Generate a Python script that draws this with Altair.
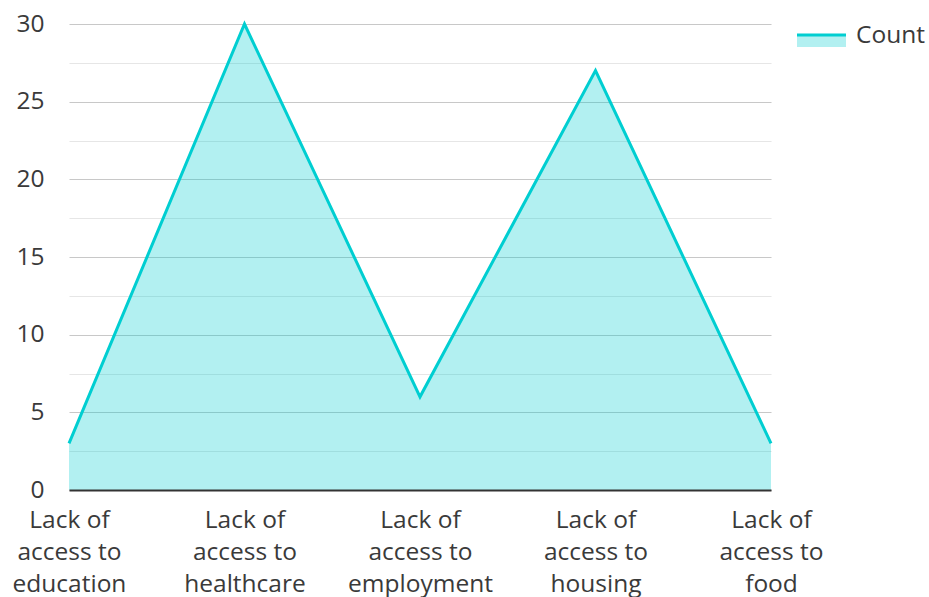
import altair as alt
import pandas as pd

categories = [
    "Lack of access to education",
    "Lack of access to healthcare",
    "Lack of access to employment",
    "Lack of access to housing",
    "Lack of access to food",
]
counts = [3, 30, 6, 27, 3]
series_name = "Count"
y_ticks = [0, 2.5, 5, 7.5, 10, 12.5, 15, 17.5, 20, 22.5, 25, 27.5, 30]

df = pd.DataFrame({"category": categories, "count": counts})

LINE = "#00CED1"
FONT = "Open Sans"
TXT = "#3a3a3a"
FS = 24.5

x_enc = alt.X(
    "category:N",
    sort=categories,
    scale=alt.Scale(type="point", padding=0),
    axis=alt.Axis(
        title=None,
        labelAngle=0,
        labelFontSize=FS,
        labelLineHeight=32,
        labelColor=TXT,
        labelFont=FONT,
        labelPadding=18,
        labelExpr="[slice(datum.label,0,7), slice(datum.label,8,17), slice(datum.label,18)]",
        ticks=False,
        domainColor="#333333",
        domainWidth=2,
        grid=False,
        zindex=1,
    ),
)
y_enc = alt.Y(
    "count:Q",
    scale=alt.Scale(domain=[0, 30], nice=False),
    axis=alt.Axis(
        title=None,
        values=y_ticks,
        labelExpr="datum.value % 5 == 0 ? datum.label : ''",
        labelFontSize=FS,
        labelColor=TXT,
        labelFont=FONT,
        labelPadding=25,
        ticks=False,
        domain=False,
        gridColor={"condition": {"test": "datum.value % 5 == 0", "value": "#c8c8c8"}, "value": "#e6e6e6"},
        gridWidth=1.2,
    ),
)

area = alt.Chart(df).mark_area(color=LINE, fillOpacity=0.3, line=False).encode(x=x_enc, y=y_enc)
line = alt.Chart(df).mark_line(color=LINE, strokeWidth=3).encode(x=x_enc, y=y_enc)

leg_data = alt.Data(values=[{"label": series_name}])
leg_rect = alt.Chart(leg_data).mark_rect(color=LINE, opacity=0.3).encode(
    x=alt.value(728), x2=alt.value(777), y=alt.value(11), y2=alt.value(23)
)
leg_rule = alt.Chart(leg_data).mark_rule(color=LINE, strokeWidth=3).encode(
    x=alt.value(728), x2=alt.value(777), y=alt.value(11)
)
leg_text = alt.Chart(leg_data).mark_text(
    align="left", baseline="middle", fontSize=FS, font=FONT, color=TXT
).encode(x=alt.value(787), y=alt.value(12), text="label:N")

chart = (
    alt.layer(area, line, leg_rect, leg_rule, leg_text)
    .properties(
        width=702,
        height=466,
        background="white",
        autosize=alt.AutoSizeParams(type="none"),
        padding={"left": 69, "top": 24, "right": 158, "bottom": 107},
    )
    .configure(font=FONT)
    .configure_view(strokeWidth=0, stroke="transparent")
)

chart.save("out.html", embed_options={"renderer": "svg", "actions": False})
